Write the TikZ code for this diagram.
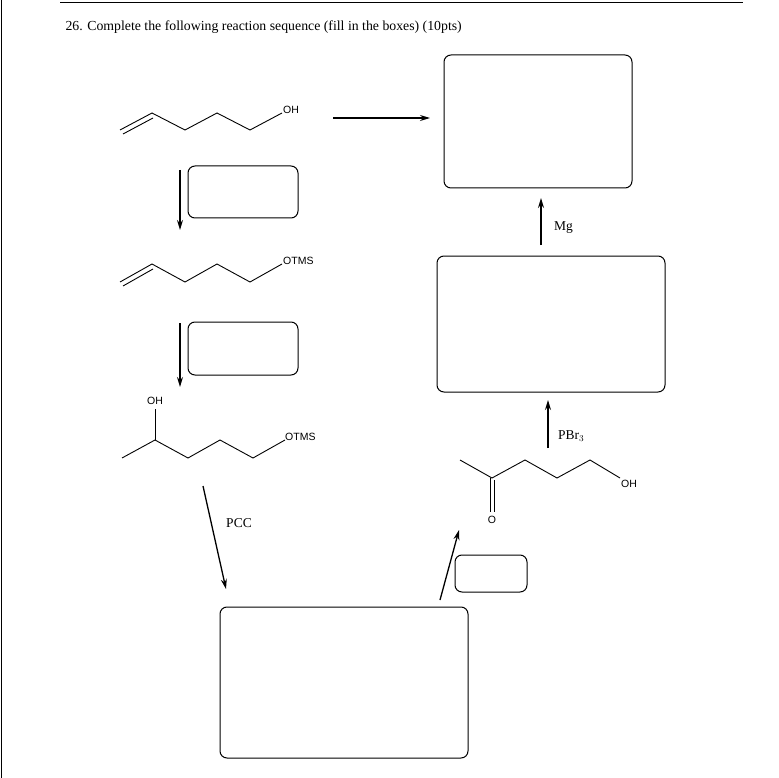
\documentclass[tikz,border=0pt]{standalone}
\usepackage{fontspec}
\setmainfont{Liberation Serif}
\newfontfamily\chemfont{Liberation Sans}
\usetikzlibrary{arrows.meta}
\tikzset{
  bx/.style={draw,rounded corners=7pt,line width=1pt},
  bond/.style={line width=0.9pt},
  rx/.style={line width=1.3pt,-{Stealth[length=10pt,width=6pt]}},
  lbl/.style={font=\chemfont\fontsize{10.5}{12}\selectfont,inner sep=1pt},
  rl/.style={font=\fontsize{13.5}{15}\selectfont,inner sep=1pt}
}
\begin{document}
\begin{tikzpicture}[x=1pt,y=-1pt]
\useasboundingbox (0,0) rectangle (779,778);
\draw[line width=1pt] (60,3) -- (743,3);
\draw[line width=0.8pt] (1,0) -- (1,778);
\node[anchor=west,font=\fontsize{13.8}{15}\selectfont] (title) at (62,27) {26. Complete the following reaction sequence (fill in the boxes) (10pts)};
% molecule 1
\coordinate (a1) at (120,130); \coordinate (a2) at (152,113); \coordinate (a3) at (185,130);
\coordinate (a4) at (217,113); \coordinate (a5) at (250,130); \coordinate (a6) at (282,113);
\draw[bond] (a1)--(a2)--(a3)--(a4)--(a5)--(a6);
\draw[bond] (123,134)--(153,118);
\node[lbl,anchor=west] (oh1) at (282,110) {OH};
% box 1
\node[bx,minimum width=188pt,minimum height=133pt] (B1) at (538,121.5) {};
\draw[rx] (333,118) -- (430,118);
% step 2
\node[bx,minimum width=110pt,minimum height=52pt] (s1) at (243,192) {};
\coordinate (d1) at (180,170); \coordinate (d2) at (180,230);
\draw[rx] (d1) -- (d2);
\coordinate (b1) at (120,282); \coordinate (b2) at (152,264); \coordinate (b3) at (185,282);
\coordinate (b4) at (217,264); \coordinate (b5) at (250,282); \coordinate (b6) at (282,264);
\draw[bond] (b1)--(b2)--(b3)--(b4)--(b5)--(b6);
\draw[bond] (123,286)--(153,269);
\node[lbl,anchor=west] (otms1) at (282,261) {OTMS};
\node[bx,minimum width=110pt,minimum height=53pt] (s2) at (243,348.5) {};
\coordinate (d3) at (180,323); \coordinate (d4) at (180,387);
\draw[rx] (d3) -- (d4);
% molecule 3
\coordinate (c1) at (122,458); \coordinate (c2) at (155,440); \coordinate (c3) at (188,458);
\coordinate (c4) at (220,440); \coordinate (c5) at (253,458); \coordinate (c6) at (285,440);
\draw[bond] (c1)--(c2)--(c3)--(c4)--(c5)--(c6);
\draw[bond] (c2) -- (155,409);
\node[lbl] (oh3) at (155,401) {OH};
\node[lbl,anchor=west] (otms2) at (284,437) {OTMS};
% PCC
\coordinate (p1) at (203,486); \coordinate (p2) at (226,589);
\draw[rx] (p1) -- (p2);
\node[rl] (pcc) at (239,523) {PCC};
\node[bx,minimum width=248pt,minimum height=151pt] (B4) at (344,682.5) {};
% small box
\node[bx,minimum width=72pt,minimum height=37pt] (s3) at (491,573.5) {};
\coordinate (q1) at (440,600); \coordinate (q2) at (459,530);
\draw[rx] (q1) -- (q2);
% ketone
\coordinate (k1) at (460,460); \coordinate (k2) at (492,478); \coordinate (k3) at (525,460);
\coordinate (k4) at (557,478); \coordinate (k5) at (590,460); \coordinate (k6) at (620,478);
\draw[bond] (k1)--(k2)--(k3)--(k4)--(k5)--(k6);
\draw[bond] (490,478)--(490,512); \draw[bond] (494,480)--(494,512);
\node[lbl] (o) at (492,520) {O};
\node[lbl,anchor=west] (oh4) at (620,484) {OH};
% PBr3
\coordinate (r1) at (548,448); \coordinate (r2) at (548,400);
\draw[rx] (r1) -- (r2);
\node[rl,anchor=west] (pbr) at (557,436) {PBr$_3$};
\node[bx,minimum width=228pt,minimum height=136pt] (B2) at (551,324) {};
% Mg
\coordinate (m1) at (541,245); \coordinate (m2) at (541,198);
\draw[rx] (m1) -- (m2);
\node[rl,anchor=west] (mg) at (553,228) {Mg};
\end{tikzpicture}
\end{document}
